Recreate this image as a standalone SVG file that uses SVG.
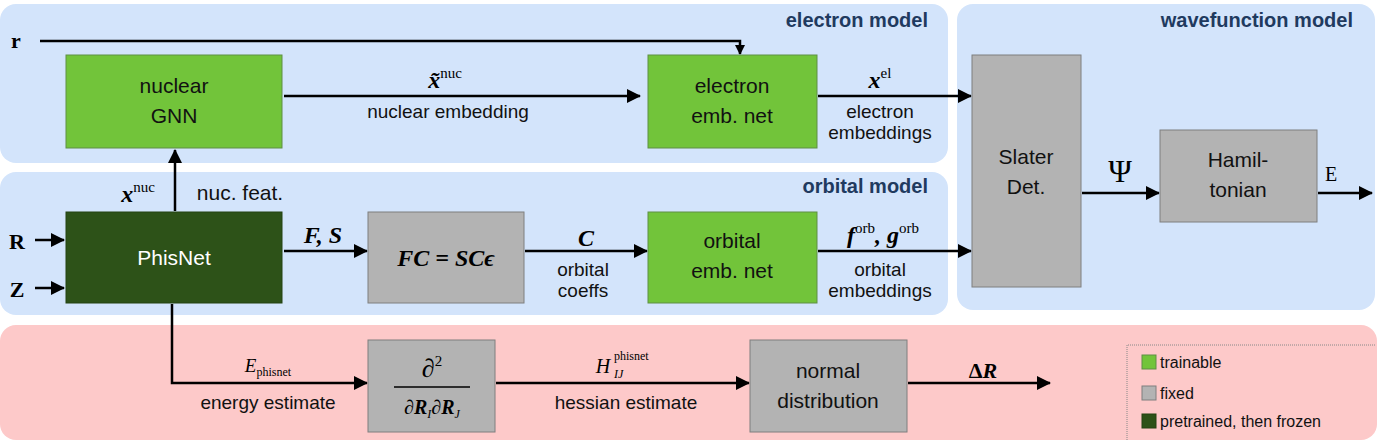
<svg xmlns="http://www.w3.org/2000/svg" width="1380" height="443" viewBox="0 0 1380 443">
<defs>
<marker id="ah" markerWidth="10" markerHeight="10" refX="9" refY="5" orient="auto" markerUnits="userSpaceOnUse"><path d="M0,0 L10,5 L0,10 z" fill="#000"/></marker>
<marker id="ahb" markerWidth="14" markerHeight="14" refX="13" refY="7" orient="auto" markerUnits="userSpaceOnUse"><path d="M0,0 L14,7 L0,14 z" fill="#000"/></marker>
<style>
.panel{fill:#d3e4fb}
.pink{fill:#fdc9c9}
.tr{fill:#72c43a;stroke:#5f8f45;stroke-width:1}
.fx{fill:#b3b3b3;stroke:#7f7f7f;stroke-width:1}
.fr{fill:#2d5218;stroke:#244312;stroke-width:1}
.t{font-family:"Liberation Sans",Arial,sans-serif;font-size:21px;text-anchor:middle;fill:#111}
.s{font-family:"Liberation Sans",Arial,sans-serif;font-size:19px;text-anchor:middle;fill:#111}
.h{font-family:"Liberation Sans",Arial,sans-serif;font-size:20px;font-weight:bold;text-anchor:end;fill:#1f3a5f}
.m{font-family:"Liberation Serif","DejaVu Serif",serif;font-size:24px;font-weight:bold;font-style:italic;text-anchor:middle;fill:#000}
.mr{font-family:"Liberation Serif","DejaVu Serif",serif;font-size:22px;text-anchor:middle;fill:#000}
.sup{font-size:15px;font-weight:normal;font-style:normal}
.ln{stroke:#000;stroke-width:2.5;fill:none}
.lg{font-family:"Liberation Sans",Arial,sans-serif;font-size:16px;fill:#111}
</style>
</defs>
<g id="panels">
<rect class="panel" x="0" y="4" width="948" height="159" rx="16"/>
<rect class="panel" x="0" y="172" width="948" height="143" rx="16"/>
<rect class="panel" x="957" y="4" width="418" height="306" rx="16"/>
<rect class="pink" x="0" y="325" width="1377" height="115" rx="16"/>
<text class="h" x="928" y="27">electron model</text>
<text class="h" x="928" y="193">orbital model</text>
<text class="h" x="1353" y="27">wavefunction model</text>
</g>
<g id="connectors">
<path class="ln" d="M40,41 H740 V54" marker-end="url(#ah)"/>
<path class="ln" d="M284,96 H640" marker-end="url(#ahb)"/>
<path class="ln" d="M818,96 H971" marker-end="url(#ahb)"/>
<path class="ln" d="M284,251 H367" marker-end="url(#ahb)"/>
<path class="ln" d="M525,251 H647" marker-end="url(#ahb)"/>
<path class="ln" d="M818,251 H971" marker-end="url(#ahb)"/>
<path class="ln" d="M1082,193 H1159" marker-end="url(#ahb)"/>
<path class="ln" d="M1318,193 H1372" marker-end="url(#ahb)"/>
<path class="ln" d="M35,240 H64" marker-end="url(#ahb)"/>
<path class="ln" d="M35,288 H64" marker-end="url(#ahb)"/>
<path class="ln" d="M175,211 V150" marker-end="url(#ahb)"/>
<path class="ln" d="M172,304 V383 H367" marker-end="url(#ahb)"/>
<path class="ln" d="M496,383 H749" marker-end="url(#ahb)"/>
<path class="ln" d="M908,383 H1050" marker-end="url(#ahb)"/>
</g>
<g id="labels">
<text class="mr" x="16" y="48" font-weight="bold">r</text>
<text class="mr" x="17" y="249" font-weight="bold">R</text>
<text class="mr" x="17" y="297" font-weight="bold">Z</text>
<text class="m" x="445" y="88">x̃<tspan class="sup" dy="-10">nuc</tspan></text>
<text class="s" x="448" y="118">nuclear embedding</text>
<text class="m" x="880" y="88">x<tspan class="sup" dy="-10">el</tspan></text>
<text class="s" x="880" y="118">electron</text>
<text class="s" x="880" y="139">embeddings</text>
<text class="m" x="138" y="202">x<tspan class="sup" dy="-10">nuc</tspan></text>
<text class="t" x="240" y="200">nuc. feat.</text>
<text class="m" x="323" y="243">F, S</text>
<text class="m" x="586" y="246">C</text>
<text class="s" x="583" y="276">orbital</text>
<text class="s" x="583" y="297">coeffs</text>
<text class="m" x="883" y="243">f<tspan class="sup" dy="-10">orb</tspan><tspan dy="10">, g</tspan><tspan class="sup" dy="-10">orb</tspan></text>
<text class="s" x="880" y="276">orbital</text>
<text class="s" x="880" y="297">embeddings</text>
<text class="mr" x="1120" y="182" style="font-size:32px">Ψ</text>
<text class="mr" x="1331" y="181" style="font-size:20px">E</text>
<text class="mr" x="268" y="372" style="font-size:19px;font-style:italic">E<tspan style="font-size:12px;font-style:normal" dy="4">phisnet</tspan></text>
<text class="s" x="268" y="409">energy estimate</text>
<text class="mr" x="603" y="373" style="font-size:20px;font-style:italic">H</text>
<text class="mr" x="614" y="360" style="font-size:12px;text-anchor:start">phisnet</text>
<text class="mr" x="614" y="378" style="font-size:12px;font-style:italic;text-anchor:start">IJ</text>
<text class="s" x="626" y="409">hessian estimate</text>
<text class="m" x="983" y="378" style="font-size:22px"><tspan style="font-style:normal">Δ</tspan>R</text>
</g>
<g id="nuclearGNN"><rect class="tr" x="66" y="55" width="216" height="93"/><text class="t" x="174" y="93">nuclear</text><text class="t" x="174" y="123">GNN</text></g>
<g id="electronEmb"><rect class="tr" x="648" y="55" width="169" height="93"/><text class="t" x="732" y="93">electron</text><text class="t" x="732" y="123">emb. net</text></g>
<g id="phisnet"><rect class="fr" x="66" y="212" width="216" height="91"/><text class="t" x="174" y="265" style="fill:#fff">PhisNet</text></g>
<g id="fcsc"><rect class="fx" x="368" y="212" width="156" height="91"/><text class="m" x="446" y="266">FC = SCϵ</text></g>
<g id="orbitalEmb"><rect class="tr" x="648" y="212" width="169" height="91"/><text class="t" x="732" y="248">orbital</text><text class="t" x="732" y="278">emb. net</text></g>
<g id="slater"><rect class="fx" x="972" y="55" width="109" height="232"/><text class="t" x="1026" y="164">Slater</text><text class="t" x="1026" y="194">Det.</text></g>
<g id="hamiltonian"><rect class="fx" x="1160" y="130" width="157" height="92"/><text class="t" x="1238" y="167">Hamil-</text><text class="t" x="1238" y="197">tonian</text></g>
<g id="hessian"><rect class="fx" x="368" y="340" width="127" height="92"/>
<text class="mr" x="432" y="377" style="font-size:26px">∂<tspan style="font-size:15px" dy="-11">2</tspan></text>
<line x1="394" y1="387" x2="470" y2="387" stroke="#000" stroke-width="1.5"/>
<text class="m" x="432" y="414" style="font-size:20px"><tspan style="font-weight:normal">∂</tspan>R<tspan class="sup" style="font-style:italic;font-size:12px" dy="4">I</tspan><tspan style="font-weight:normal" dy="-4">∂</tspan>R<tspan class="sup" style="font-style:italic;font-size:12px" dy="4">J</tspan></text></g>
<g id="normal"><rect class="fx" x="750" y="340" width="157" height="92"/><text class="t" x="828" y="378">normal</text><text class="t" x="828" y="408">distribution</text></g>
<g id="legend">
<path d="M1127,440 V345 H1375" fill="none" stroke="#888" stroke-width="1" stroke-dasharray="1,1"/>
<rect class="tr" x="1142" y="355" width="14" height="14"/><text class="lg" x="1160" y="368">trainable</text>
<rect class="fx" x="1142" y="386" width="14" height="14"/><text class="lg" x="1160" y="399">fixed</text>
<rect class="fr" x="1142" y="414" width="14" height="14"/><text class="lg" x="1160" y="427">pretrained, then frozen</text>
</g>
</svg>
